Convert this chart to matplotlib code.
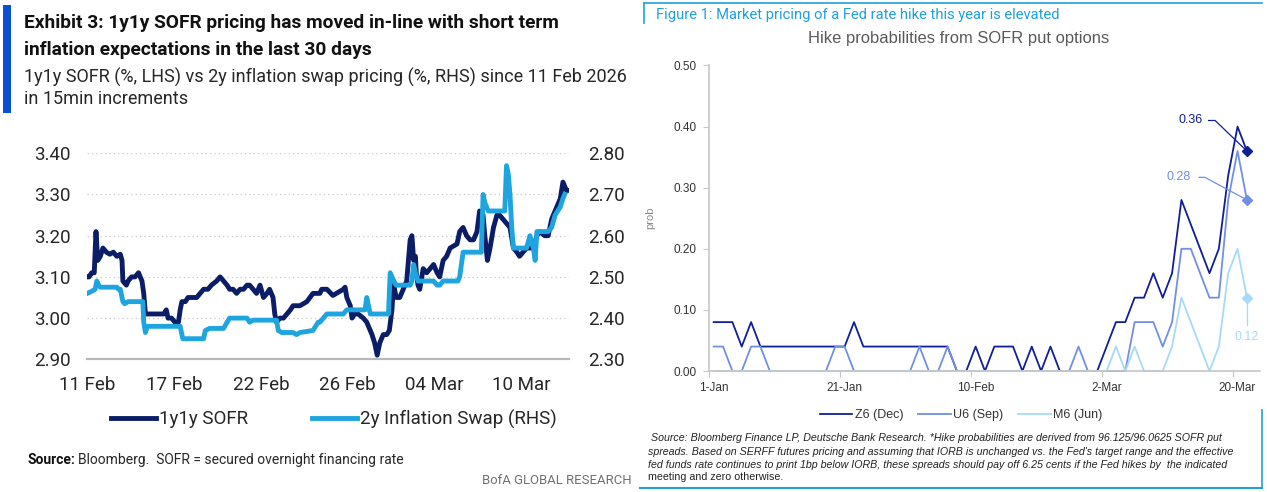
import matplotlib
matplotlib.use('Agg')
import matplotlib.pyplot as plt
import numpy as np
from matplotlib import font_manager
from matplotlib.lines import Line2D
from matplotlib.patches import Rectangle
from matplotlib.ticker import FormatStrFormatter

# ---------------- left panel data (BofA exhibit) ----------------
# x in tick units along the trading-time axis (0 = 11 Feb, 1 = 17 Feb, ...)
dates_l = ['11 Feb', '17 Feb', '22 Feb', '26 Feb', '04 Mar', '10 Mar']
sofr_t = [0.00, 0.02, 0.05, 0.08, 0.10, 0.12, 0.15, 0.18, 0.22, 0.26,
          0.30, 0.34, 0.38, 0.40, 0.41, 0.45, 0.47, 0.51, 0.55, 0.59,
          0.63, 0.65, 0.67, 0.70, 0.76, 0.82, 0.88, 0.91, 0.93, 0.97,
          1.01, 1.05, 1.07, 1.09, 1.13, 1.16, 1.22, 1.26, 1.30, 1.34,
          1.39, 1.43, 1.49, 1.53, 1.57, 1.61, 1.64, 1.68, 1.72, 1.76,
          1.80, 1.84, 1.87, 1.91, 1.95, 1.99, 2.03, 2.07, 2.10, 2.14,
          2.16, 2.18, 2.22, 2.26, 2.30, 2.34, 2.37, 2.41, 2.45, 2.53,
          2.60, 2.68, 2.70, 2.76, 2.83, 2.87, 2.95, 2.97, 2.99, 3.03,
          3.05, 3.08, 3.12, 3.18, 3.22, 3.26, 3.28, 3.31, 3.34, 3.37,
          3.41, 3.45, 3.48, 3.51, 3.53, 3.54, 3.56, 3.60, 3.64, 3.68,
          3.72, 3.74, 3.76, 3.78, 3.79, 3.81, 3.83, 3.87, 3.91, 3.95,
          3.99, 4.03, 4.06, 4.10, 4.14, 4.18, 4.22, 4.26, 4.29, 4.33,
          4.37, 4.41, 4.45, 4.49, 4.52, 4.56, 4.58, 4.61, 4.64, 4.68,
          4.72, 4.75, 4.79, 4.83, 4.87, 4.91, 4.95, 4.98, 5.02, 5.06,
          5.10, 5.14, 5.18, 5.21, 5.27, 5.31, 5.35, 5.41, 5.45, 5.48,
          5.52, 5.54]
sofr = [3.10, 3.10, 3.11, 3.11, 3.21, 3.14, 3.15, 3.17, 3.16, 3.155,
        3.16, 3.15, 3.155, 3.14, 3.09, 3.08, 3.09, 3.10, 3.10, 3.11,
        3.09, 3.06, 3.01, 3.01, 3.01, 3.01, 3.01, 3.02, 3.00, 3.00,
        2.99, 2.99, 3.02, 3.04, 3.04, 3.05, 3.05, 3.05, 3.06, 3.07,
        3.07, 3.08, 3.09, 3.10, 3.09, 3.08, 3.07, 3.07, 3.06, 3.07,
        3.07, 3.08, 3.08, 3.07, 3.06, 3.08, 3.05, 3.06, 3.07, 3.05,
        3.01, 2.99, 3.00, 3.00, 3.01, 3.02, 3.03, 3.03, 3.03, 3.04,
        3.06, 3.06, 3.07, 3.07, 3.055, 3.06, 3.07, 3.075, 3.05, 3.03,
        3.00, 3.01, 3.01, 3.00, 2.99, 2.97, 2.96, 2.94, 2.91, 2.94,
        2.96, 2.96, 2.97, 3.02, 3.09, 3.07, 3.05, 3.05, 3.07, 3.09,
        3.19, 3.20, 3.14, 3.15, 3.11, 3.08, 3.07, 3.12, 3.11, 3.12,
        3.13, 3.11, 3.10, 3.14, 3.15, 3.17, 3.175, 3.18, 3.21, 3.22,
        3.20, 3.19, 3.19, 3.21, 3.26, 3.25, 3.20, 3.14, 3.17, 3.22,
        3.25, 3.25, 3.24, 3.23, 3.22, 3.17, 3.16, 3.15, 3.16, 3.17,
        3.17, 3.17, 3.20, 3.21, 3.20, 3.20, 3.24, 3.27, 3.29, 3.33,
        3.31, 3.31]
swap_t = [0.00, 0.05, 0.09, 0.11, 0.13, 0.15, 0.34, 0.36, 0.38, 0.41,
          0.43, 0.47, 0.64, 0.65, 0.67, 0.69, 1.07, 1.08, 1.10, 1.34,
          1.36, 1.41, 1.57, 1.61, 1.64, 1.84, 1.87, 1.91, 2.18, 2.20,
          2.24, 2.37, 2.41, 2.45, 2.60, 2.66, 2.68, 2.76, 2.95, 2.99,
          3.20, 3.22, 3.24, 3.26, 3.47, 3.49, 3.53, 3.56, 3.72, 3.74,
          3.76, 3.78, 3.81, 3.99, 4.03, 4.06, 4.10, 4.27, 4.29, 4.33,
          4.54, 4.56, 4.58, 4.62, 4.81, 4.83, 4.85, 4.87, 4.89, 4.91,
          5.06, 5.10, 5.14, 5.16, 5.18, 5.31, 5.35, 5.39, 5.45, 5.48,
          5.50]
swap = [2.46, 2.465, 2.47, 2.49, 2.48, 2.475, 2.475, 2.47, 2.47, 2.44,
        2.435, 2.44, 2.44, 2.39, 2.365, 2.38, 2.38, 2.37, 2.35, 2.35,
        2.37, 2.375, 2.375, 2.39, 2.40, 2.40, 2.39, 2.395, 2.395, 2.37,
        2.365, 2.365, 2.36, 2.365, 2.37, 2.39, 2.39, 2.41, 2.41, 2.42,
        2.42, 2.45, 2.43, 2.41, 2.41, 2.51, 2.49, 2.48, 2.48, 2.49,
        2.53, 2.51, 2.49, 2.49, 2.48, 2.48, 2.49, 2.49, 2.50, 2.56,
        2.56, 2.70, 2.68, 2.66, 2.66, 2.77, 2.75, 2.70, 2.62, 2.57,
        2.57, 2.60, 2.57, 2.54, 2.61, 2.61, 2.62, 2.65, 2.67, 2.69,
        2.70]

# ---------------- right panel data (DB figure) ----------------
# one value per business day from 1-Jan
dates_r = ['1-Jan', '21-Jan', '10-Feb', '2-Mar', '20-Mar']
z6 = [.08, .08, .08, .04, .08, .04, .04, .04, .04, .04,
      .04, .04, .04, .04, .04, .08, .04, .04, .04, .04,
      .04, .04, .04, .04, .04, .04, 0, 0, .04, 0,
      .04, .04, .04, 0, .04, 0, .04, 0, 0, 0,
      0, 0, .04, .08, .08, .12, .12, .16, .12, .16,
      .28, .24, .20, .16, .20, .32, .40, .36]
u6 = [.04, .04, 0, 0, .04, .04, 0, 0, 0, 0,
      0, 0, 0, .04, .04, 0, 0, 0, 0, 0,
      0, 0, .04, 0, 0, .04, 0, 0, 0, 0,
      0, 0, 0, 0, 0, 0, 0, 0, 0, .04,
      0, 0, 0, 0, 0, .08, .08, .08, .04, .08,
      .20, .20, .16, .12, .12, .28, .36, .28]
m6 = [0, 0, 0, 0, 0, 0, 0, 0, 0, 0,
      0, 0, 0, 0, 0, 0, 0, 0, 0, 0,
      0, 0, 0, 0, 0, 0, 0, 0, 0, 0,
      0, 0, 0, 0, 0, 0, 0, 0, 0, 0,
      0, 0, 0, .04, 0, .04, 0, 0, 0, .04,
      .12, .08, .04, 0, .04, .16, .20, .12]
series_r = ['Z6 (Dec)', 'U6 (Sep)', 'M6 (Jun)']

W, H = 1267, 492

try:
    font_manager.findfont(font_manager.FontProperties(family='Liberation Sans Narrow'),
                          fallback_to_default=False)
    NARROW = 'Liberation Sans Narrow'
except ValueError:
    NARROW = 'Roboto'
ARIAL = 'Liberation Sans'
plt.rcParams['font.family'] = [NARROW, 'DejaVu Sans']

NAVY = '#0b1d66'
SKY = '#1ea5df'
TXT = '#262626'
DBBLUE = '#1fa0dc'
Z6C, U6C, M6C = '#0f1f99', '#7190e3', '#a6daf6'
PTXT = '#333333'
PGREY = '#c6c6c6'

fig = plt.figure(figsize=(W / 100, H / 100), dpi=100)
fig.patch.set_facecolor('white')
rend = fig.canvas.get_renderer()


def box(x0, y0, x1, y1):
    # pixel box, origin top-left -> figure rect
    return [x0 / W, 1 - y1 / H, (x1 - x0) / W, (y1 - y0) / H]


def ftext(x, y, s, **kw):
    return fig.text(x / W, 1 - y / H, s, **kw)


def fit(t, width):
    w = t.get_window_extent(rend).width
    t.set_fontsize(t.get_fontsize() * width / w)
    return t.get_fontsize()


def fline(x0, y0, x1, y1, color, lw):
    fig.add_artist(Line2D([x0 / W, x1 / W], [1 - y0 / H, 1 - y1 / H],
                          transform=fig.transFigure, color=color, lw=lw))


# ================= left panel =================
fig.add_artist(Rectangle((3 / W, 1 - 113 / H), 8 / W, 108 / H,
                         transform=fig.transFigure, color='#0b50d3', lw=0))
t = ftext(24, 23, 'Exhibit 3: 1y1y SOFR pricing has moved in-line with short term',
          weight='bold', fontsize=14, va='center', color='#111111')
fs = fit(t, 538)
ftext(24, 50, 'inflation expectations in the last 30 days',
      weight='bold', fontsize=fs, va='center', color='#111111')
t = ftext(24, 77, '1y1y SOFR (%, LHS) vs 2y inflation swap pricing (%, RHS) since 11 Feb 2026',
          fontsize=12, va='center', color=TXT)
fs = fit(t, 600)
ftext(24, 99, 'in 15min increments', fontsize=fs, va='center', color=TXT)

LS = 15 if NARROW != 'Roboto' else 13.5
axL = fig.add_axes(box(87.3, 153.3, 569, 359.3))
axL.plot(sofr_t, sofr, color=NAVY, lw=3.5)
axL2 = axL.twinx()
axL2.plot(swap_t, swap, color=SKY, lw=3.5)

axL.set_xlim(0, 5.55)
axL.set_ylim(2.9, 3.4)
axL2.set_ylim(2.3, 2.8)
axL.set_yticks(np.arange(2.9, 3.41, 0.1))
axL2.set_yticks(np.arange(2.3, 2.81, 0.1))
axL.yaxis.set_major_formatter(FormatStrFormatter('%.2f'))
axL2.yaxis.set_major_formatter(FormatStrFormatter('%.2f'))
axL.set_xticks(range(len(dates_l)))
axL.set_xticklabels(dates_l)
for a in (axL, axL2):
    for s in a.spines.values():
        s.set_visible(False)
axL.spines['bottom'].set_visible(True)
axL.spines['bottom'].set_color('#b8b8b8')
axL.spines['bottom'].set_linewidth(1.6)
axL.grid(axis='y', linestyle=(0, (1, 2.5)), color='#c8c8c8', lw=0.9)
axL.tick_params(axis='y', length=0, labelsize=LS, labelcolor=TXT, pad=12)
axL.tick_params(axis='x', length=0, labelsize=LS, labelcolor=TXT, pad=12)
axL2.tick_params(axis='y', length=0, labelsize=LS, labelcolor=TXT, pad=14)

hl = [Line2D([], [], color=NAVY, lw=3.5), Line2D([], [], color=SKY, lw=3.5)]
fig.legend(hl, ['1y1y SOFR', '2y Inflation Swap (RHS)'], loc='center',
           bbox_to_anchor=(334 / W, 1 - 419 / H), ncol=2, frameon=False,
           prop={'family': NARROW, 'size': LS}, labelcolor=TXT,
           handlelength=2.4, handletextpad=0.15, columnspacing=3.4)

s1 = ftext(28, 460, 'Source:', weight='bold', fontsize=11, va='center', color='#111111')
s2 = ftext(28, 460, 'Bloomberg.  SOFR = secured overnight financing rate',
           fontsize=11, va='center', color=TXT)
w1 = s1.get_window_extent(rend).width
w2 = s2.get_window_extent(rend).width
k = 374 / (w1 + w2 + 3)
s1.set_fontsize(11 * k)
s2.set_fontsize(11 * k)
s2.set_x((28 + w1 * k + 3 * k) / W)
t = ftext(632, 481, 'BofA GLOBAL RESEARCH', ha='right', va='center',
          color='#707070', fontsize=10)
fit(t, 148)

# ================= right panel =================
fline(644, 3, 1262, 3, DBBLUE, 1.2)
fline(644, 3, 644, 23, DBBLUE, 1.2)
t = ftext(656, 15, 'Figure 1: Market pricing of a Fed rate hike this year is elevated',
          color=DBBLUE, fontsize=10, va='center')
fit(t, 404)
t = ftext(959, 38, 'Hike probabilities from SOFR put options', family=ARIAL,
          color='#595959', fontsize=11, ha='center', va='center')
fit(t, 297)

axP = fig.add_axes(box(709, 65.5, 1260, 371))
j = np.arange(len(z6))
axP.plot(j, z6, color=Z6C, lw=1.3, clip_on=False)
axP.plot(j, u6, color=U6C, lw=1.3, clip_on=False)
axP.plot(j, m6, color=M6C, lw=1.3, clip_on=False)
for vals, c in ((z6, Z6C), (u6, U6C), (m6, M6C)):
    axP.plot(j[-1], vals[-1], marker='D', ms=5, color=c, clip_on=False)

axP.set_xlim(-0.5, 58.4)
axP.set_ylim(0, 0.5)
axP.set_yticks(np.arange(0, 0.51, 0.1))
axP.yaxis.set_major_formatter(FormatStrFormatter('%.2f'))
axP.set_xticks([-0.5, 13.5, 27.5, 41.5, 55.5])
axP.set_xticks([0, 14, 28, 42, 56], minor=True)
axP.set_xticklabels(dates_r, minor=True)
axP.tick_params(axis='x', which='major', length=4, width=0.8, color=PGREY, labelbottom=False)
axP.tick_params(axis='x', which='minor', length=0, pad=8, labelsize=8.5, labelcolor=PTXT)
axP.tick_params(axis='y', length=4, width=0.8, color=PGREY, pad=5, labelsize=8.5, labelcolor=PTXT)
for s in ('top', 'right'):
    axP.spines[s].set_visible(False)
for s in ('left', 'bottom'):
    axP.spines[s].set_color(PGREY)
    axP.spines[s].set_linewidth(1.2)
for lbl in axP.get_xticklabels(minor=True) + axP.get_yticklabels():
    lbl.set_fontfamily(ARIAL)
axP.set_ylabel('prob', color='#8c8c8c', fontsize=8, family=ARIAL)
axP.yaxis.set_label_coords(-0.098, 0.5)

# value call-outs
axP.text(51.0, 0.41, '%.2f' % z6[-1], color=Z6C, fontsize=9, family=ARIAL, ha='center', va='center')
axP.plot([52.9, 53.6, j[-1]], [0.41, 0.41, z6[-1]], color=Z6C, lw=0.9, clip_on=False)
axP.text(49.7, 0.317, '%.2f' % u6[-1], color=U6C, fontsize=9, family=ARIAL, ha='center', va='center')
axP.plot([51.9, 52.5, j[-1]], [0.317, 0.317, u6[-1]], color=U6C, lw=0.9, clip_on=False)
axP.text(57.0, 0.055, '%.2f' % m6[-1], color=M6C, fontsize=9, family=ARIAL, ha='center', va='center')
axP.plot([j[-1], j[-1]], [m6[-1], 0.075], color=M6C, lw=0.9, clip_on=False)

hr = [Line2D([], [], color=c, lw=1.3) for c in (Z6C, U6C, M6C)]
fig.legend(hr, series_r, loc='center', bbox_to_anchor=(961 / W, 1 - 415 / H), ncol=3,
           frameon=False, prop={'family': ARIAL, 'size': 9}, labelcolor=PTXT,
           handlelength=2.6, handletextpad=0.2, columnspacing=1.2)

notes = [' Source: Bloomberg Finance LP, Deutsche Bank Research. *Hike probabilities are derived from 96.125/96.0625 SOFR put',
         "spreads. Based on SERFF futures pricing and assuming that IORB is unchanged vs. the Fed's target range and the effective",
         'fed funds rate continues to print 1bp below IORB, these spreads should pay off 6.25 cents if the Fed hikes by  the indicated',
         'meeting and zero otherwise.']
t = ftext(648, 452, notes[1], family=ARIAL, style='italic', fontsize=7.5, va='center', color='#222222')
fs = fit(t, 586)
ftext(648, 438, notes[0], family=ARIAL, style='italic', fontsize=fs, va='center', color='#222222')
ftext(648, 465, notes[2], family=ARIAL, style='italic', fontsize=fs, va='center', color='#222222')
ftext(648, 477, notes[3], family=ARIAL, fontsize=fs, va='center', color='#222222')

fline(640, 488, 1262, 488, DBBLUE, 1.5)
fline(1262, 410, 1262, 488, DBBLUE, 1.2)

fig.savefig('out.png', dpi=100)
